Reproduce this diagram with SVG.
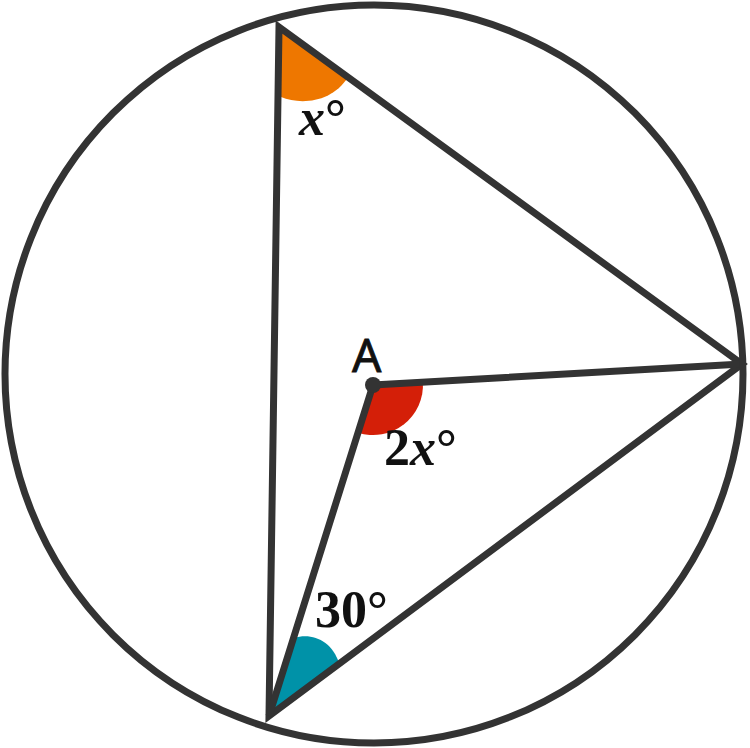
<svg xmlns="http://www.w3.org/2000/svg" width="750" height="748" viewBox="0 0 750 748">
<style>
.ln{fill:none;stroke:#333333;stroke-width:7;}
.lbl{font-family:"Liberation Serif","DejaVu Serif",serif;font-weight:bold;font-size:52px;fill:#111111;}
.mi{font-style:italic;}
.pt{font-family:"Noto Sans","Liberation Sans",sans-serif;font-size:46px;fill:#111111;stroke:#111111;stroke-width:0.8;}
</style>
<rect width="750" height="748" fill="#ffffff"/>
<g id="angle-x">
<path d="M279,27 L281,97 C300,105 332,103 348,77 Z" fill="#ee7700"/>
<text class="lbl" x="299" y="135"><tspan class="mi">x</tspan><tspan>°</tspan></text>
</g>
<g id="angle-2x">
<path d="M373,385 L422.9,382.1 A50,50 0 0 1 357.9,432.7 Z" fill="#d41f08"/>
<text class="lbl" x="384" y="465">2<tspan class="mi">x</tspan>°</text>
</g>
<g id="angle-30">
<path d="M269,716 L294,638 C312,632 332,641 339,663 Z" fill="#0092a8"/>
<text class="lbl" x="315" y="627">30°</text>
</g>
<g id="connectors">
<path class="ln" d="M279,27 L742,364 L269,716 Z" stroke-linejoin="miter"/>
<path class="ln" d="M742,364 L373,385 L269,716" stroke-linejoin="round"/>
</g>
<g id="circle">
<circle class="ln" cx="374" cy="374" r="369"/>
</g>
<g id="center-A">
<circle cx="373" cy="385" r="8" fill="#333333"/>
<text class="pt" x="352" y="372">A</text>
</g>
</svg>
